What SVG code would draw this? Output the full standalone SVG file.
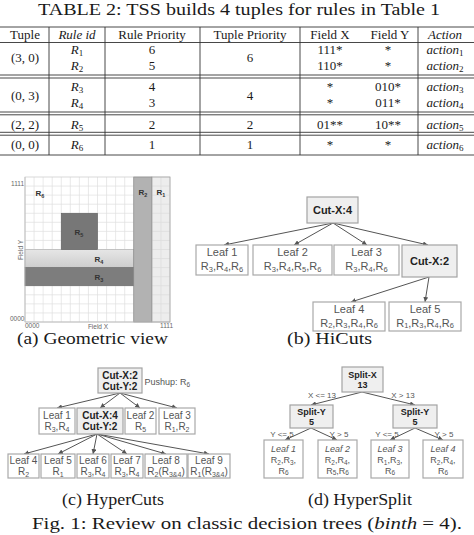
<svg xmlns="http://www.w3.org/2000/svg" width="474" height="535" viewBox="0 0 474 535">
<style>
.ser{font-family:"Liberation Serif","DejaVu Serif",serif;fill:#1a1a1a}
.tc{font-family:"Liberation Serif","DejaVu Serif",serif;font-size:13px;fill:#1a1a1a;text-anchor:middle}
.it{font-style:italic}
.tl{stroke:#333;stroke-width:0.9}
.box{fill:#fff;stroke:#a9a9a9;stroke-width:1.2}
.ibox{fill:#efefef;stroke:#a3a3a3;stroke-width:1.2}
.lt{font-family:"Liberation Sans",Arial,sans-serif;fill:#555;text-anchor:middle}
.bt{font-family:"Liberation Sans",Arial,sans-serif;font-weight:bold;fill:#222;text-anchor:middle}
.edge{stroke:#555;stroke-width:1;fill:none;marker-end:url(#ah)}
.grid{stroke:#e0e0e0;stroke-width:0.7;fill:none}
.gl{font-family:"Liberation Sans",Arial,sans-serif;font-weight:bold;font-size:8px;fill:#333;text-anchor:middle}
.ax{font-family:"Liberation Sans",Arial,sans-serif;font-size:6.5px;fill:#666}
</style>
<defs>
<marker id="ah" viewBox="0 0 6 6" refX="6" refY="3" markerWidth="5" markerHeight="5" markerUnits="userSpaceOnUse" orient="auto">
<path d="M0,0 L6,3 L0,6 z" fill="#555"/>
</marker>
<linearGradient id="g4" x1="0" y1="0" x2="0" y2="1">
<stop offset="0" stop-color="#e6e6e6"/><stop offset="1" stop-color="#cdcdcd"/>
</linearGradient>
</defs>
<rect width="474" height="535" fill="#fff"/>

<!-- Table -->
<g id="table">
<text class="ser" x="38" y="15" font-size="16" textLength="402" lengthAdjust="spacingAndGlyphs">TABLE 2: TSS builds 4 tuples for rules in Table 1</text>
<g class="tl">
<line x1="0" y1="27" x2="474" y2="27"/>
<line x1="0" y1="42.5" x2="474" y2="42.5"/>
<line x1="0" y1="75" x2="474" y2="75"/>
<line x1="0" y1="78" x2="474" y2="78"/>
<line x1="0" y1="112" x2="474" y2="112"/>
<line x1="0" y1="114.8" x2="474" y2="114.8"/>
<line x1="0" y1="132.3" x2="474" y2="132.3"/>
<line x1="0" y1="135.2" x2="474" y2="135.2"/>
<line x1="0" y1="155" x2="474" y2="155"/>
<line x1="49" y1="27" x2="49" y2="155"/>
<line x1="105" y1="27" x2="105" y2="155"/>
<line x1="200" y1="27" x2="200" y2="155"/>
<line x1="300" y1="27" x2="300" y2="155"/>
<line x1="418" y1="27" x2="418" y2="155"/>
</g>
<text class="tc" x="25" y="39">Tuple</text>
<text class="tc it" x="77" y="39">Rule id</text>
<text class="tc" x="152" y="39">Rule Priority</text>
<text class="tc" x="250" y="39">Tuple Priority</text>
<text class="tc" x="330" y="39">Field X</text>
<text class="tc" x="390" y="39">Field Y</text>
<text class="tc it" x="445" y="39">Action</text>

<text class="tc" x="25" y="62">(3, 0)</text>
<text class="tc" x="77" y="54"><tspan class="it">R</tspan><tspan font-size="9" dy="2">1</tspan></text>
<text class="tc" x="77" y="70"><tspan class="it">R</tspan><tspan font-size="9" dy="2">2</tspan></text>
<text class="tc" x="152" y="54">6</text>
<text class="tc" x="152" y="70">5</text>
<text class="tc" x="250" y="62">6</text>
<text class="tc" x="330" y="54">111*</text>
<text class="tc" x="330" y="70">110*</text>
<text class="tc" x="388" y="54">*</text>
<text class="tc" x="388" y="70">*</text>
<text class="tc" x="445" y="54"><tspan class="it">action</tspan><tspan font-size="9" dy="2">1</tspan></text>
<text class="tc" x="445" y="70"><tspan class="it">action</tspan><tspan font-size="9" dy="2">2</tspan></text>

<text class="tc" x="25" y="100">(0, 3)</text>
<text class="tc" x="77" y="91"><tspan class="it">R</tspan><tspan font-size="9" dy="2">3</tspan></text>
<text class="tc" x="77" y="107"><tspan class="it">R</tspan><tspan font-size="9" dy="2">4</tspan></text>
<text class="tc" x="152" y="91">4</text>
<text class="tc" x="152" y="107">3</text>
<text class="tc" x="250" y="100">4</text>
<text class="tc" x="330" y="91">*</text>
<text class="tc" x="330" y="107">*</text>
<text class="tc" x="388" y="91">010*</text>
<text class="tc" x="388" y="107">011*</text>
<text class="tc" x="445" y="91"><tspan class="it">action</tspan><tspan font-size="9" dy="2">3</tspan></text>
<text class="tc" x="445" y="107"><tspan class="it">action</tspan><tspan font-size="9" dy="2">4</tspan></text>

<text class="tc" x="25" y="128.5">(2, 2)</text>
<text class="tc" x="77" y="128.5"><tspan class="it">R</tspan><tspan font-size="9" dy="2">5</tspan></text>
<text class="tc" x="152" y="128.5">2</text>
<text class="tc" x="250" y="128.5">2</text>
<text class="tc" x="330" y="128.5">01**</text>
<text class="tc" x="388" y="128.5">10**</text>
<text class="tc" x="445" y="128.5"><tspan class="it">action</tspan><tspan font-size="9" dy="2">5</tspan></text>

<text class="tc" x="25" y="149">(0, 0)</text>
<text class="tc" x="77" y="149"><tspan class="it">R</tspan><tspan font-size="9" dy="2">6</tspan></text>
<text class="tc" x="152" y="149">1</text>
<text class="tc" x="250" y="149">1</text>
<text class="tc" x="330" y="149">*</text>
<text class="tc" x="388" y="149">*</text>
<text class="tc" x="445" y="149"><tspan class="it">action</tspan><tspan font-size="9" dy="2">6</tspan></text>
</g>

<!-- (a) Geometric view -->
<g id="geometric-view">
<rect x="25" y="177" width="145" height="145" fill="#fff"/>
<path class="grid" d="M34.06,177V322M43.13,177V322M52.19,177V322M61.25,177V322M70.31,177V322M79.38,177V322M88.44,177V322M97.5,177V322M106.56,177V322M115.63,177V322M124.69,177V322M133.75,177V322M142.81,177V322M151.88,177V322M160.94,177V322M25,186.06H170M25,195.13H170M25,204.19H170M25,213.25H170M25,222.31H170M25,231.38H170M25,240.44H170M25,249.5H170M25,258.56H170M25,267.63H170M25,276.69H170M25,285.75H170M25,294.81H170M25,303.88H170M25,312.94H170"/>
<rect x="25" y="177" width="145" height="145" fill="none" stroke="#d0d0d0" stroke-width="0.8"/>
<rect x="25" y="249.5" width="108.75" height="18.13" fill="url(#g4)" stroke="#aaa" stroke-width="0.6"/>
<rect x="25" y="267.63" width="108.75" height="18.12" fill="#7d7d7d" stroke="#666" stroke-width="0.6"/>
<rect x="61.25" y="213.25" width="36.25" height="36.25" fill="#777" stroke="#5e5e5e" stroke-width="0.6"/>
<rect x="133.75" y="177" width="18.13" height="145" fill="#b2b2b2" stroke="#8a8a8a" stroke-width="0.7"/>
<rect x="151.88" y="177" width="18.12" height="145" fill="#d8d8d8" fill-opacity="0.45" stroke="#999" stroke-width="0.6"/>
<line x1="25" y1="177" x2="25" y2="322" stroke="#bbb" stroke-width="0.8"/>
<line x1="25" y1="322" x2="170" y2="322" stroke="#bbb" stroke-width="0.8"/>
<text class="gl" x="40" y="196">R<tspan font-size="5.5" dy="1.5">6</tspan></text>
<text class="gl" x="79" y="235">R<tspan font-size="5.5" dy="1.5">5</tspan></text>
<text class="gl" x="99" y="262">R<tspan font-size="5.5" dy="1.5">4</tspan></text>
<text class="gl" x="99" y="280">R<tspan font-size="5.5" dy="1.5">3</tspan></text>
<text class="gl" x="143" y="195">R<tspan font-size="5.5" dy="1.5">2</tspan></text>
<text class="gl" x="161" y="195">R<tspan font-size="5.5" dy="1.5">1</tspan></text>
<text class="ax" x="11" y="185.5">1111</text>
<text class="ax" x="10" y="321">0000</text>
<text class="ax" x="25" y="328">0000</text>
<text class="ax" x="160" y="328">1111</text>
<text class="ax" x="98" y="328.5" font-size="8" style="text-anchor:middle">Field X</text>
<text class="ax" x="0" y="0" font-size="8" style="text-anchor:middle" transform="translate(22.5,250) rotate(-90)">Field Y</text>
</g>
<text id="cap-a" class="ser" x="17" y="343.5" font-size="16" textLength="151" lengthAdjust="spacingAndGlyphs">(a) Geometric view</text>

<!-- (b) HiCuts -->
<g id="hicuts-edges">
<line class="edge" x1="333" y1="223" x2="224" y2="245"/>
<line class="edge" x1="333" y1="223" x2="294" y2="245"/>
<line class="edge" x1="333" y1="223" x2="367" y2="245"/>
<line class="edge" x1="333" y1="223" x2="428" y2="245"/>
<line class="edge" x1="429" y1="277" x2="351" y2="302"/>
<line class="edge" x1="429" y1="277" x2="425" y2="302"/>
</g>
<g id="hc-cutx4"><rect class="ibox" x="307" y="197" width="51" height="26"/><text class="bt" x="332.5" y="214" font-size="11">Cut-X:4</text></g>
<g id="hc-leaf1"><rect class="box" x="196" y="245" width="52" height="30"/><text class="lt" font-size="11" x="222" y="256">Leaf 1</text><text class="lt" font-size="11" x="222" y="270">R<tspan font-size="7.5" dy="1.5">3</tspan><tspan dy="-1.5">,R</tspan><tspan font-size="7.5" dy="1.5">4</tspan><tspan dy="-1.5">,R</tspan><tspan font-size="7.5" dy="1.5">6</tspan></text></g>
<g id="hc-leaf2"><rect class="box" x="253" y="245" width="79" height="30"/><text class="lt" font-size="11" x="292.5" y="256">Leaf 2</text><text class="lt" font-size="11" x="292.5" y="270">R<tspan font-size="7.5" dy="1.5">3</tspan><tspan dy="-1.5">,R</tspan><tspan font-size="7.5" dy="1.5">4</tspan><tspan dy="-1.5">,R</tspan><tspan font-size="7.5" dy="1.5">5</tspan><tspan dy="-1.5">,R</tspan><tspan font-size="7.5" dy="1.5">6</tspan></text></g>
<g id="hc-leaf3"><rect class="box" x="334" y="245" width="65" height="30"/><text class="lt" font-size="11" x="366.5" y="256">Leaf 3</text><text class="lt" font-size="11" x="366.5" y="270">R<tspan font-size="7.5" dy="1.5">3</tspan><tspan dy="-1.5">,R</tspan><tspan font-size="7.5" dy="1.5">4</tspan><tspan dy="-1.5">,R</tspan><tspan font-size="7.5" dy="1.5">6</tspan></text></g>
<g id="hc-cutx2"><rect class="ibox" x="402" y="245" width="55" height="32"/><text class="bt" x="429.5" y="265" font-size="11">Cut-X:2</text></g>
<g id="hc-leaf4"><rect class="box" x="313" y="302" width="72" height="29"/><text class="lt" font-size="11" x="349" y="312.5">Leaf 4</text><text class="lt" font-size="11" x="349" y="326.5">R<tspan font-size="7.5" dy="1.5">2</tspan><tspan dy="-1.5">,R</tspan><tspan font-size="7.5" dy="1.5">3</tspan><tspan dy="-1.5">,R</tspan><tspan font-size="7.5" dy="1.5">4</tspan><tspan dy="-1.5">,R</tspan><tspan font-size="7.5" dy="1.5">6</tspan></text></g>
<g id="hc-leaf5"><rect class="box" x="389" y="302" width="72" height="29"/><text class="lt" font-size="11" x="425" y="312.5">Leaf 5</text><text class="lt" font-size="11" x="425" y="326.5">R<tspan font-size="7.5" dy="1.5">1</tspan><tspan dy="-1.5">,R</tspan><tspan font-size="7.5" dy="1.5">3</tspan><tspan dy="-1.5">,R</tspan><tspan font-size="7.5" dy="1.5">4</tspan><tspan dy="-1.5">,R</tspan><tspan font-size="7.5" dy="1.5">6</tspan></text></g>
<text id="cap-b" class="ser" x="287" y="344" font-size="16" textLength="85" lengthAdjust="spacingAndGlyphs">(b) HiCuts</text>

<!-- (c) HyperCuts -->
<g id="hypercuts-edges">
<line class="edge" x1="120" y1="393" x2="57" y2="408"/>
<line class="edge" x1="120" y1="393" x2="100" y2="408"/>
<line class="edge" x1="120" y1="393" x2="140" y2="408"/>
<line class="edge" x1="120" y1="393" x2="177" y2="408"/>
<line class="edge" x1="97" y1="434" x2="24" y2="454"/>
<line class="edge" x1="97" y1="434" x2="58" y2="454"/>
<line class="edge" x1="97" y1="434" x2="93" y2="454"/>
<line class="edge" x1="97" y1="434" x2="127" y2="454"/>
<line class="edge" x1="97" y1="434" x2="166" y2="454"/>
<line class="edge" x1="97" y1="434" x2="209" y2="454"/>
</g>
<g id="hy-root"><rect class="ibox" x="98" y="368" width="44" height="25"/><text class="bt" font-size="10" x="120" y="379">Cut-X:2</text><text class="bt" font-size="10" x="120" y="389.5">Cut-Y:2</text></g>
<text id="hy-pushup" class="lt" font-size="9" x="144.5" y="385" style="text-anchor:start">Pushup: R<tspan font-size="6.5" dy="1.5">6</tspan></text>
<g id="hy-leaf1"><rect class="box" x="39" y="408" width="36" height="26"/><text class="lt" font-size="10" x="57" y="418.5">Leaf 1</text><text class="lt" font-size="10" x="57" y="430">R<tspan font-size="7" dy="1.5">3</tspan><tspan dy="-1.5">,R</tspan><tspan font-size="7" dy="1.5">4</tspan></text></g>
<g id="hy-cut"><rect class="ibox" x="77" y="408" width="46" height="26"/><text class="bt" font-size="10" x="100" y="419">Cut-X:4</text><text class="bt" font-size="10" x="100" y="430">Cut-Y:2</text></g>
<g id="hy-leaf2"><rect class="box" x="125" y="408" width="31" height="26"/><text class="lt" font-size="10" x="140.5" y="418.5">Leaf 2</text><text class="lt" font-size="10" x="140.5" y="430">R<tspan font-size="7" dy="1.5">5</tspan></text></g>
<g id="hy-leaf3"><rect class="box" x="159" y="408" width="36" height="26"/><text class="lt" font-size="10" x="177" y="418.5">Leaf 3</text><text class="lt" font-size="10" x="177" y="430">R<tspan font-size="7" dy="1.5">1</tspan><tspan dy="-1.5">,R</tspan><tspan font-size="7" dy="1.5">2</tspan></text></g>
<g id="hy-leaf4"><rect class="box" x="8" y="454" width="31" height="24"/><text class="lt" font-size="10" x="23.5" y="464">Leaf 4</text><text class="lt" font-size="10" x="23.5" y="475">R<tspan font-size="7" dy="1.5">2</tspan></text></g>
<g id="hy-leaf5"><rect class="box" x="41" y="454" width="34" height="24"/><text class="lt" font-size="10" x="58" y="464">Leaf 5</text><text class="lt" font-size="10" x="58" y="475">R<tspan font-size="7" dy="1.5">1</tspan></text></g>
<g id="hy-leaf6"><rect class="box" x="77" y="454" width="32" height="24"/><text class="lt" font-size="10" x="93" y="464">Leaf 6</text><text class="lt" font-size="10" x="93" y="475">R<tspan font-size="7" dy="1.5">3</tspan><tspan dy="-1.5">,R</tspan><tspan font-size="7" dy="1.5">4</tspan></text></g>
<g id="hy-leaf7"><rect class="box" x="111" y="454" width="32" height="24"/><text class="lt" font-size="10" x="127" y="464">Leaf 7</text><text class="lt" font-size="10" x="127" y="475">R<tspan font-size="7" dy="1.5">3</tspan><tspan dy="-1.5">,R</tspan><tspan font-size="7" dy="1.5">4</tspan></text></g>
<g id="hy-leaf8"><rect class="box" x="145" y="454" width="42" height="24"/><text class="lt" font-size="10" x="166" y="464">Leaf 8</text><text class="lt" font-size="10" x="166" y="475">R<tspan font-size="7" dy="1.5">2</tspan><tspan dy="-1.5">(R</tspan><tspan font-size="7" dy="1.5">3&amp;4</tspan><tspan dy="-1.5">)</tspan></text></g>
<g id="hy-leaf9"><rect class="box" x="188" y="454" width="42" height="24"/><text class="lt" font-size="10" x="209" y="464">Leaf 9</text><text class="lt" font-size="10" x="209" y="475">R<tspan font-size="7" dy="1.5">1</tspan><tspan dy="-1.5">(R</tspan><tspan font-size="7" dy="1.5">3&amp;4</tspan><tspan dy="-1.5">)</tspan></text></g>
<text id="cap-c" class="ser" x="62" y="505" font-size="16" textLength="102" lengthAdjust="spacingAndGlyphs">(c) HyperCuts</text>

<!-- (d) HyperSplit -->
<g id="hypersplit-edges">
<line class="edge" x1="362" y1="392" x2="311" y2="405"/>
<line class="edge" x1="362" y1="392" x2="415" y2="405"/>
<line class="edge" x1="311" y1="428" x2="285" y2="440"/>
<line class="edge" x1="311" y1="428" x2="337" y2="440"/>
<line class="edge" x1="415" y1="428" x2="390" y2="440"/>
<line class="edge" x1="415" y1="428" x2="443" y2="440"/>
<text class="lt" font-size="8" x="322" y="398">X &lt;= 13</text>
<text class="lt" font-size="8" x="403" y="398">X &gt; 13</text>
<text class="lt" font-size="8" x="282" y="437">Y &lt;= 5</text>
<text class="lt" font-size="8" x="339" y="437">Y &gt; 5</text>
<text class="lt" font-size="8" x="387" y="437">Y &lt;= 5</text>
<text class="lt" font-size="8" x="444" y="437">Y &gt; 5</text>
</g>
<g id="hs-root"><rect class="ibox" x="342" y="367" width="41" height="25"/><text class="bt" font-size="9" x="362.5" y="378">Split-X</text><text class="bt" font-size="9" x="362.5" y="388">13</text></g>
<g id="hs-splity-l"><rect class="ibox" x="290" y="405" width="43" height="23"/><text class="bt" font-size="9" x="311.5" y="415">Split-Y</text><text class="bt" font-size="9" x="311.5" y="425">5</text></g>
<g id="hs-splity-r"><rect class="ibox" x="393" y="405" width="44" height="23"/><text class="bt" font-size="9" x="415" y="415">Split-Y</text><text class="bt" font-size="9" x="415" y="425">5</text></g>
<g id="hs-leaf1"><rect class="box" x="264" y="440" width="39" height="38"/><text class="lt it" font-size="9" x="283.5" y="451.5">Leaf 1</text><text class="lt" font-size="9" x="283.5" y="463">R<tspan font-size="6.5" dy="1.5">2</tspan><tspan dy="-1.5">,R</tspan><tspan font-size="6.5" dy="1.5">3</tspan><tspan dy="-1.5">,</tspan></text><text class="lt" font-size="9" x="283.5" y="473.5">R<tspan font-size="6.5" dy="1.5">6</tspan></text></g>
<g id="hs-leaf2"><rect class="box" x="318" y="440" width="39" height="38"/><text class="lt it" font-size="9" x="337.5" y="451.5">Leaf 2</text><text class="lt" font-size="9" x="337.5" y="463">R<tspan font-size="6.5" dy="1.5">2</tspan><tspan dy="-1.5">,R</tspan><tspan font-size="6.5" dy="1.5">4</tspan><tspan dy="-1.5">,</tspan></text><text class="lt" font-size="9" x="337.5" y="473.5">R<tspan font-size="6.5" dy="1.5">5</tspan><tspan dy="-1.5">,R</tspan><tspan font-size="6.5" dy="1.5">6</tspan></text></g>
<g id="hs-leaf3"><rect class="box" x="371" y="440" width="38" height="38"/><text class="lt it" font-size="9" x="390" y="451.5">Leaf 3</text><text class="lt" font-size="9" x="390" y="463">R<tspan font-size="6.5" dy="1.5">1</tspan><tspan dy="-1.5">,R</tspan><tspan font-size="6.5" dy="1.5">3</tspan><tspan dy="-1.5">,</tspan></text><text class="lt" font-size="9" x="390" y="473.5">R<tspan font-size="6.5" dy="1.5">6</tspan></text></g>
<g id="hs-leaf4"><rect class="box" x="423" y="440" width="40" height="38"/><text class="lt it" font-size="9" x="443" y="451.5">Leaf 4</text><text class="lt" font-size="9" x="443" y="463">R<tspan font-size="6.5" dy="1.5">2</tspan><tspan dy="-1.5">,R</tspan><tspan font-size="6.5" dy="1.5">4</tspan><tspan dy="-1.5">,</tspan></text><text class="lt" font-size="9" x="443" y="473.5">R<tspan font-size="6.5" dy="1.5">6</tspan></text></g>
<text id="cap-d" class="ser" x="308" y="505" font-size="16" textLength="104" lengthAdjust="spacingAndGlyphs">(d) HyperSplit</text>

<text id="fig-caption" class="ser" x="32" y="529" font-size="16" textLength="430" lengthAdjust="spacingAndGlyphs">Fig. 1: Review on classic decision trees (<tspan font-style="italic">binth</tspan> = 4).</text>
</svg>
